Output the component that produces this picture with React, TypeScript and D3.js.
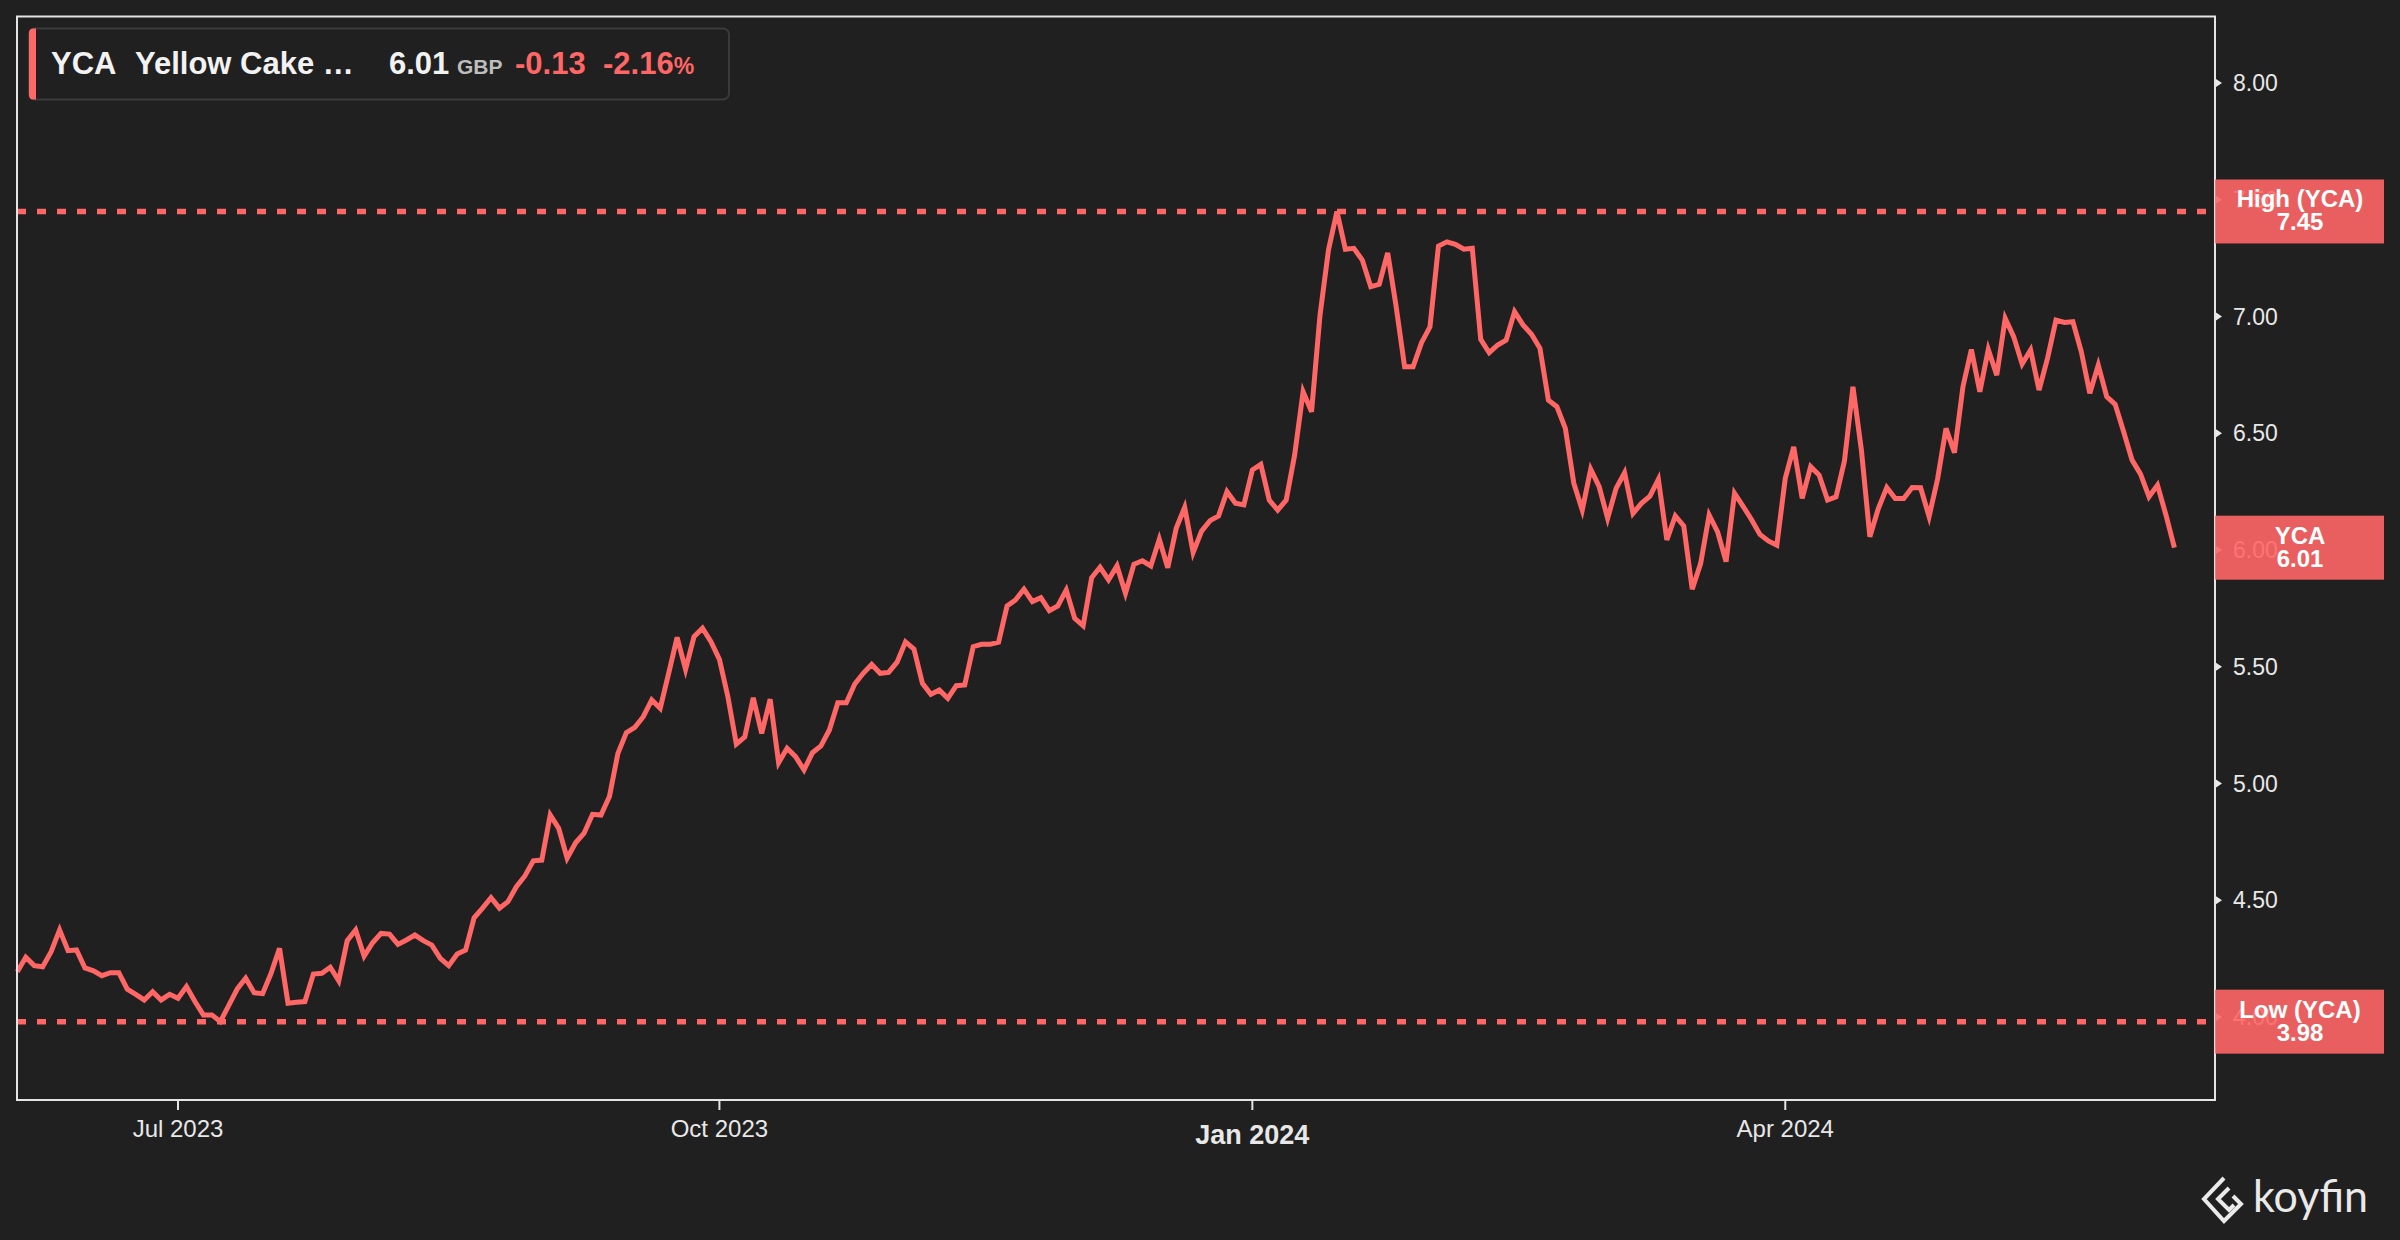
import React from "react";
import * as d3 from "d3";

// ---------- data ----------
const ticker = "YCA";
const name = "Yellow Cake …";
const lastPrice = 6.01;
const currency = "GBP";
const change = -0.13;
const changePct = -2.16;
const highValue = 7.45;
const lowValue = 3.98;

const startDate = "2023-06-06";
const holidays = [
  "2023-08-28", "2023-12-25", "2023-12-26", "2024-01-01",
  "2024-03-29", "2024-04-01", "2024-05-06", "2024-05-27",
];

const closes: number[] = [
  // Jun – Aug 2023
  4.194, 4.256, 4.22, 4.215, 4.28, 4.373, 4.284, 4.287, 4.21, 4.198,
  4.177, 4.19, 4.19, 4.119, 4.097, 4.073, 4.108, 4.073, 4.097, 4.08,
  4.13, 4.066, 4.009, 4.009, 3.98, 4.05, 4.12, 4.166, 4.104, 4.1,
  4.187, 4.294, 4.059, 4.063, 4.066, 4.184, 4.187, 4.213, 4.155, 4.327,
  4.373, 4.261, 4.318, 4.358, 4.355, 4.311, 4.33, 4.351, 4.327, 4.308,
  4.251, 4.22, 4.27,
  // Aug – Nov 2023
  4.287, 4.425, 4.466, 4.511, 4.466, 4.494, 4.558, 4.604, 4.669, 4.672,
  4.865, 4.808, 4.68, 4.746, 4.787, 4.868, 4.865, 4.944, 5.129, 5.218,
  5.241, 5.286, 5.358, 5.322, 5.472, 5.626, 5.489, 5.629, 5.665, 5.607,
  5.532, 5.372, 5.169, 5.2, 5.367, 5.215, 5.361, 5.089, 5.151, 5.115,
  5.058, 5.132, 5.161, 5.229, 5.346, 5.346, 5.426, 5.472, 5.51, 5.472,
  5.476, 5.52,
  // Nov 2023 – Jan 2024
  5.607, 5.576, 5.429, 5.382, 5.4, 5.365, 5.419, 5.422, 5.586, 5.596,
  5.596, 5.605, 5.76, 5.786, 5.832, 5.779, 5.796, 5.74, 5.761, 5.829,
  5.707, 5.676, 5.881, 5.926, 5.872, 5.932, 5.815, 5.939, 5.954, 5.932,
  6.046, 5.924, 6.093, 6.183, 5.989, 6.081, 6.126, 6.146, 6.25, 6.2,
  6.193, 6.343, 6.367, 6.214, 6.171, 6.214, 6.407, 6.678, 6.592, 7.006,
  7.285, 7.45,
  // Jan – Apr 2024
  7.288, 7.292, 7.242, 7.128, 7.138, 7.273, 7.042, 6.785, 6.785, 6.888,
  6.956, 7.302, 7.32, 7.309, 7.288, 7.292, 6.902, 6.845, 6.878, 6.899,
  7.021, 6.964, 6.924, 6.864, 6.642, 6.614, 6.521, 6.286, 6.171, 6.346,
  6.271, 6.136, 6.264, 6.331, 6.157, 6.2, 6.231, 6.303, 6.043, 6.146,
  6.103, 5.832, 5.943, 6.15, 6.078, 5.95, 6.243, 6.188, 6.131, 6.067,
  6.039, 6.021,
  // Apr – Jun 2024
  6.307, 6.442, 6.221, 6.357, 6.321, 6.214, 6.228, 6.382, 6.699, 6.428,
  6.057, 6.178, 6.268, 6.221, 6.221, 6.268, 6.267, 6.143, 6.303, 6.521,
  6.417, 6.699, 6.859, 6.678, 6.859, 6.749, 6.992, 6.914, 6.797, 6.857,
  6.685, 6.821, 6.985, 6.975, 6.978, 6.849, 6.671, 6.792, 6.657, 6.624,
  6.507, 6.385, 6.325, 6.228, 6.278, 6.15, 6.01,
];

const tickMonths = ["2023-07", "2023-10", "2024-01", "2024-04"];
const yTicks = [4.0, 4.5, 5.0, 5.5, 6.0, 6.5, 7.0, 7.5, 8.0];

// trading calendar (weekdays minus listed holidays)
function tradingDates(start: string, n: number): Date[] {
  const out: Date[] = [];
  const hol = new Set(holidays);
  let d = new Date(start + "T00:00:00Z");
  while (out.length < n) {
    const wd = d.getUTCDay();
    const key = d.toISOString().slice(0, 10);
    if (wd !== 0 && wd !== 6 && !hol.has(key)) out.push(new Date(d));
    d = new Date(d.getTime() + 86400000);
  }
  return out;
}

// ---------- style ----------
const W = 2400;
const H = 1240;
const BG = "#202020";
const LINE = "#ff6666";
const FRAME = "#e4e4e4";
const TEXT = "#e8e8e8";
const FONT = "Arial, 'Liberation Sans', sans-serif";

const plot = { left: 17, top: 16.5, right: 2215, bottom: 1100 };

export default function App() {
  const dates = tradingDates(startDate, closes.length);
  const x = d3.scaleLinear().domain([0, 259.8]).range([17.3, plot.right]);
  const y = d3.scaleLinear().domain([3.6445, 8.285]).range([plot.bottom, plot.top]);

  const line = d3
    .line<number>()
    .x((_, i) => x(i))
    .y((v) => y(v));

  const fmtMonth = d3.utcFormat("%b %Y");
  const xTicks = tickMonths.map((m) => {
    const idx = dates.findIndex((d) => d.toISOString().slice(0, 7) === m);
    return { idx, label: fmtMonth(dates[idx]), bold: m.endsWith("-01") };
  });

  const badges = [
    { v: highValue, l1: `High (${ticker})`, l2: highValue.toFixed(2) },
    { v: closes[closes.length - 1], l1: ticker, l2: lastPrice.toFixed(2) },
    { v: lowValue, l1: `Low (${ticker})`, l2: lowValue.toFixed(2) },
  ];

  return (
    <div style={{ position: "absolute", left: 0, top: 0, width: W, height: H }}>
      <svg width={W} height={H} style={{ display: "block", background: BG }} fontFamily={FONT}>
        <rect x={0} y={0} width={W} height={H} fill={BG} />

        {/* reference lines */}
        {[highValue, lowValue].map((v) => (
          <line
            key={v}
            x1={plot.left}
            x2={plot.right}
            y1={y(v)}
            y2={y(v)}
            stroke={LINE}
            strokeWidth={5.5}
            strokeDasharray="9,11"
          />
        ))}

        {/* price line */}
        <path d={line(closes) || ""} fill="none" stroke={LINE} strokeWidth={5} />

        {/* frame */}
        <rect
          x={plot.left}
          y={plot.top}
          width={plot.right - plot.left}
          height={plot.bottom - plot.top}
          fill="none"
          stroke={FRAME}
          strokeWidth={2}
        />

        {/* y axis */}
        {yTicks.map((t) => (
          <g key={t}>
            <path
              d={`M${plot.right + 1},${y(t) - 4} L${plot.right + 7},${y(t)} L${plot.right + 1},${y(t) + 4} Z`}
              fill={TEXT}
            />
            <text x={2233} y={y(t)} dy="0.35em" fontSize={23} fill={TEXT}>
              {t.toFixed(2)}
            </text>
          </g>
        ))}

        {/* badges */}
        {badges.map((b) => {
          const cy = y(b.v);
          return (
            <g key={b.l1}>
              <rect x={plot.right} y={cy - 32} width={169} height={64} fill={LINE} opacity={0.9} />
              <text x={2300} y={cy - 4} textAnchor="middle" fontSize={24} fontWeight="bold" fill="#ffffff">
                {b.l1}
              </text>
              <text x={2300} y={cy + 19} textAnchor="middle" fontSize={24} fontWeight="bold" fill="#ffffff">
                {b.l2}
              </text>
            </g>
          );
        })}

        {/* x axis */}
        {xTicks.map((t) => (
          <g key={t.label}>
            <line x1={x(t.idx)} x2={x(t.idx)} y1={plot.bottom} y2={plot.bottom + 10} stroke={FRAME} strokeWidth={2} />
            <text
              x={x(t.idx)}
              y={t.bold ? 1144 : 1137}
              textAnchor="middle"
              fontSize={t.bold ? 27 : 24}
              fontWeight={t.bold ? "bold" : "normal"}
              fill={TEXT}
            >
              {t.label}
            </text>
          </g>
        ))}

        {/* legend */}
        <rect x={29} y={28.5} width={700} height={71} rx={6} fill={BG} stroke="#3a3a3a" strokeWidth={2} />
        <path d="M36,28.5 L36,99.5 L33,99.5 Q29,99.5 29,95 L29,33 Q29,28.5 33,28.5 Z" fill={LINE} />
        <text y={73.5} fontSize={31} fontWeight="bold">
          <tspan x={51} fill="#f2f2f2">{ticker}</tspan>
          <tspan x={135} fill="#f2f2f2">{name}</tspan>
          <tspan x={389} fill="#f2f2f2">{lastPrice.toFixed(2)}</tspan>
          <tspan x={457} fontSize={21} fill="#bdbdbd">{currency}</tspan>
          <tspan x={515} fill={LINE}>{change.toFixed(2)}</tspan>
          <tspan x={603} fill={LINE}>{changePct.toFixed(2)}</tspan>
          <tspan fontSize={23} fill={LINE}>%</tspan>
        </text>

        {/* koyfin logo */}
        <g fill="none" stroke="#eaeaea" strokeWidth={4} strokeLinejoin="miter">
          <path d="M2224,1178 L2204,1199 L2224,1221 L2241,1204 L2233,1196" />
          <path d="M2229,1188 L2218,1199 L2229,1210 L2234,1205" />
        </g>
        <text x={2253} y={1212} fontSize={44} fill="#eaeaea" fontFamily="Lato, 'Open Sans', sans-serif" textLength={115} lengthAdjust="spacingAndGlyphs">
          koyfin
        </text>
      </svg>
    </div>
  );
}
